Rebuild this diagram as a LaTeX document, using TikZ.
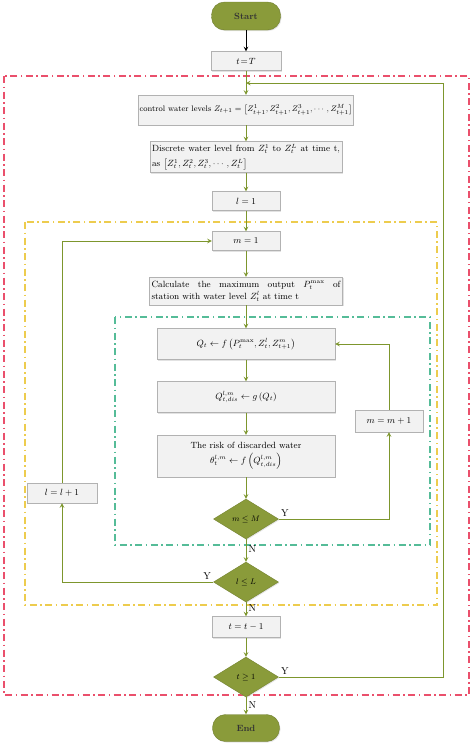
\documentclass[tikz,border=0pt]{standalone}
\usepackage{amsmath}
\usepackage{tikz}
\usepackage{xcolor}
\usetikzlibrary{shapes.geometric}
\usetikzlibrary{positioning}
\usetikzlibrary{shadows}
\definecolor{olivefill}{RGB}{138,155,58}
\definecolor{oliveline}{RGB}{125,150,45}
\definecolor{framered}{RGB}{234,80,108}
\definecolor{frameyellow}{RGB}{237,204,78}
\definecolor{frameteal}{RGB}{85,188,152}
\tikzstyle{startstop} = [rectangle, rounded corners=13pt, minimum width=69pt, minimum height=28pt, text centered, draw=olivefill!80!black, fill=olivefill, text=black!80, font=\fontsize{9}{10}\selectfont\bfseries, drop shadow={shadow xshift=1pt, shadow yshift=-1pt, fill=gray!40}]
\tikzstyle{process} = [rectangle, minimum width=68pt, minimum height=19pt, text centered, draw=gray!60, fill=gray!10, font=\fontsize{9}{13}\selectfont, drop shadow={shadow xshift=1pt, shadow yshift=-1pt, fill=gray!45}]
\tikzstyle{decision} = [diamond, minimum width=65pt, minimum height=40pt, inner sep=0pt, text centered, draw=olivefill!85!black, fill=olivefill, font=\fontsize{8.5}{10}\selectfont, drop shadow={shadow xshift=1pt, shadow yshift=-1pt, fill=gray!40}]
\tikzstyle{arrow} = [line width=1pt, draw=oliveline, ->, >=stealth]
\tikzstyle{loopline} = [line width=1.1pt, dash pattern=on 7pt off 3.5pt on 1.5pt off 3.5pt]

\begin{document}
\begin{tikzpicture}[x=1pt, y=-1pt]
        \useasboundingbox (0,0) rectangle (474,748);
        % frames
        \draw [loopline, framered] (4,76) rectangle (469,695);
        \draw [loopline, frameyellow] (25,222) rectangle (437,605);
        \draw [loopline, frameteal] (115,317) rectangle (430,545);

        \node (start) [startstop] at (246,16) {Start};
        \node (initT) [process, minimum width=70pt] at (246,61) {$t\!=\!T$};
        \node (ctrl) [process, minimum width=208pt, minimum height=30pt, inner sep=1pt, font=\fontsize{8}{10}\selectfont] at (246,110) {control water levels $Z_{t+1}=\left[Z_{t+1}^{1},Z_{t+1}^{2},Z_{t+1}^{3},\cdots,Z_{t+1}^{M}\right]$};
        \node (discrete) [process, text width=188pt, minimum height=31pt, align=justify, inner sep=2pt, font=\fontsize{9}{15}\selectfont] at (246,157) {Discrete water level from $Z_t^1$ to $Z_t^L$ at time t,\linebreak as $\left[Z_t^1,Z_t^2,Z_t^3,\cdots,Z_t^L\right]$};
        \node (initL) [process] at (246,201) {$l=1$};
        \node (initM) [process] at (246,241) {$m=1$};
        \node (calc) [process, text width=189pt, minimum height=28pt, align=justify, inner sep=2pt, font=\fontsize{9}{12}\selectfont] at (246,291) {Calculate the maximum output $P_t^{\max}$ of\linebreak station with water level $Z_t^l$ at time t};
        \node (flow) [process, minimum width=178pt, minimum height=31pt] at (246,344) {$Q_t \leftarrow f\left(P_t^{\max},Z_t^l,Z_{t+1}^m\right)$};
        \node (spill) [process, minimum width=178pt, minimum height=31pt] at (246,397) {$Q_{t,dis}^{l,m} \leftarrow g\left(Q_t\right)$};
        \node (risk) [process, minimum width=178pt, minimum height=42pt, align=center, font=\fontsize{9}{15}\selectfont] at (246,456) {The risk of discarded water\\ $\theta_t^{l,m} \leftarrow f\left(Q_{t,dis}^{l,m}\right)$};
        \node (checkM) [decision] at (246,519) {$m \le M$};
        \node (checkL) [decision] at (246,582) {$l \le L$};
        \node (stepT) [process, minimum height=21pt] at (246,627) {$t=t-1$};
        \node (checkT) [decision] at (246,677) {$t \ge 1$};
        \node (end) [startstop, minimum width=67pt, minimum height=27pt] at (246,728) {End};
        \node (stepM) [process, minimum height=22pt] at (389,421) {$m=m+1$};
        \node (stepL) [process, minimum width=70pt, minimum height=20pt] at (62,493) {$l=l+1$};
        \coordinate (back) at (443,83);

        \draw [line width=1pt, ->, >=stealth] (start) -- (initT);
        \draw [arrow] (initT) -- (ctrl);
        \draw [arrow] (ctrl) -- (discrete);
        \draw [arrow] (discrete) -- (initL);
        \draw [arrow] (initL) -- (initM);
        \draw [arrow] (initM) -- (calc);
        \draw [arrow] (calc) -- (flow);
        \draw [arrow] (flow) -- (spill);
        \draw [arrow] (spill) -- (risk);
        \draw [arrow] (risk) -- (checkM);
        \draw [arrow] (checkM) -- node[right, pos=0.45, inner sep=2pt] {N} (checkL);
        \draw [arrow] (checkL) -- node[right, pos=0.4, inner sep=2pt] {N} (stepT);
        \draw [arrow] (stepT) -- (checkT);
        \draw [arrow] (checkT) -- node[right, pos=0.45, inner sep=2pt] {N} (end);

        \draw [arrow] (checkM.east) -- node[above right, pos=0, inner sep=2pt] {Y} (checkM.east -| stepM) -- (stepM);
        \draw [arrow] (stepM) |- (flow.east);
        \draw [arrow] (checkL.west) -- node[above left, pos=0, inner sep=2pt] {Y} (checkL.west -| stepL) -- (stepL);
        \draw [arrow] (stepL) |- (initM.west);
        \draw [arrow] (checkT.east) -- node[above right, pos=0, inner sep=2pt] {Y} (checkT.east -| back) -- (back) -- (back -| initT);
    \end{tikzpicture}
\end{document}
